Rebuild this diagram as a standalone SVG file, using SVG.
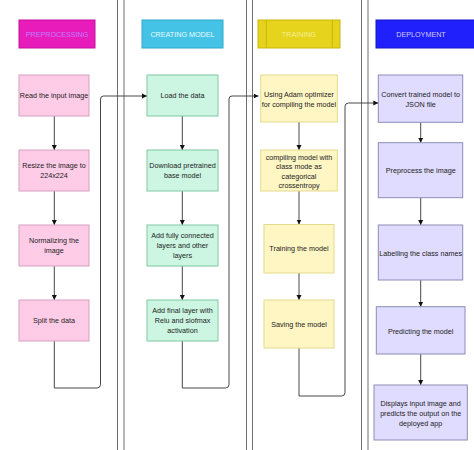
<svg xmlns="http://www.w3.org/2000/svg" width="474" height="450" viewBox="0 0 474 450">
<style>
text{font-family:"Liberation Sans",Arial,sans-serif;font-size:7.2px;fill:#222;text-anchor:middle}
.lane{stroke:#6e6e6e;stroke-width:1;fill:none}
.hd text{font-size:7.2px}
.pk{fill:#ffcce8;stroke:#d4a0c0;stroke-width:1}
.gr{fill:#ccf6e2;stroke:#80c8a2;stroke-width:1}
.yl{fill:#fff6c4;stroke:#e4da8c;stroke-width:1}
.lv{fill:#e0dcff;stroke:#8c8cb8;stroke-width:1}
.c{fill:none;stroke:#333;stroke-width:0.9}
</style>
<defs>
<marker id="ah" markerWidth="6" markerHeight="6" refX="5" refY="3" orient="auto" markerUnits="userSpaceOnUse">
<path d="M0,0.5 L5,3 L0,5.5 Z" fill="#111"/>
</marker>
</defs>
<rect width="474" height="450" fill="#fff"/>
<g id="lanes">
<line class="lane" x1="117.5" y1="0" x2="117.5" y2="450"/>
<line class="lane" x1="124" y1="0" x2="124" y2="450"/>
<line class="lane" x1="246.5" y1="0" x2="246.5" y2="450"/>
<line class="lane" x1="252.5" y1="0" x2="252.5" y2="450"/>
<line class="lane" x1="361.5" y1="0" x2="361.5" y2="450"/>
<line class="lane" x1="368" y1="0" x2="368" y2="450"/>
</g>
<g id="h1" class="hd"><rect x="19" y="20" width="76" height="28" fill="#e81cbb" stroke="#c4109c"/><text x="57" y="36.5" style="fill:#c27cff">PREPROCESSING</text></g>
<g id="h2" class="hd"><rect x="142" y="20" width="81" height="28" fill="#44c3e6" stroke="#30a8cc"/><text x="182.5" y="36.5" style="fill:#e6fbff">CREATING MODEL</text></g>
<g id="h3" class="hd"><rect x="258" y="20" width="82" height="28" fill="#e6d31c" stroke="#c9b70a"/><line x1="266.3" y1="20" x2="266.3" y2="48" stroke="#c9b70a"/><line x1="332.3" y1="20" x2="332.3" y2="48" stroke="#c9b70a"/><text x="299" y="36.5" style="fill:#f6ef94">TRAINING</text></g>
<g id="h4" class="hd"><rect x="376" y="20" width="100" height="28" fill="#1f20fb" stroke="#1414c8"/><text x="421" y="36.5" style="fill:#d4c8ff">DEPLOYMENT</text></g>

<g id="connectors">
<line class="c" x1="54.3" y1="116" x2="54.3" y2="150" marker-end="url(#ah)"/>
<line class="c" x1="54.3" y1="191" x2="54.3" y2="225" marker-end="url(#ah)"/>
<line class="c" x1="54.3" y1="266" x2="54.3" y2="300" marker-end="url(#ah)"/>
<path class="c" d="M54.3,341 V388 H97 Q100.5,388 100.5,384.5 V99 Q100.5,96 103.5,96 H147" marker-end="url(#ah)"/>
<line class="c" x1="182.3" y1="116" x2="182.3" y2="150" marker-end="url(#ah)"/>
<line class="c" x1="182.3" y1="191" x2="182.3" y2="225" marker-end="url(#ah)"/>
<line class="c" x1="182.3" y1="266" x2="182.3" y2="300" marker-end="url(#ah)"/>
<path class="c" d="M182.3,341 V388 H225.5 Q229,388 229,384.5 V99 Q229,96 232,96 H258.5" marker-end="url(#ah)"/>
<line class="c" x1="299" y1="122" x2="299" y2="150" marker-end="url(#ah)"/>
<line class="c" x1="299" y1="191" x2="299" y2="224.5" marker-end="url(#ah)"/>
<line class="c" x1="299" y1="273" x2="299" y2="300" marker-end="url(#ah)"/>
<path class="c" d="M299,348 V396 H341.5 Q345,396 345,392.5 V106.5 Q345,103 348.5,103 H378.3" marker-end="url(#ah)"/>
<line class="c" x1="420.7" y1="122.3" x2="420.7" y2="142.7" marker-end="url(#ah)"/>
<line class="c" x1="420.7" y1="197.7" x2="420.7" y2="225" marker-end="url(#ah)"/>
<line class="c" x1="420.7" y1="280" x2="420.7" y2="306.7" marker-end="url(#ah)"/>
<line class="c" x1="420.7" y1="354" x2="420.7" y2="385" marker-end="url(#ah)"/>
</g>

<g id="n1"><rect class="pk" x="19" y="75" width="70" height="41"/><text x="54" y="98">Read the input image</text></g>
<g id="n2"><rect class="pk" x="19" y="150" width="70" height="41"/><text x="54" y="168">Resize the image to</text><text x="54" y="178">224x224</text></g>
<g id="n3"><rect class="pk" x="19" y="225" width="70" height="41"/><text x="54" y="243">Normalizing the</text><text x="54" y="253">image</text></g>
<g id="n4"><rect class="pk" x="19" y="300" width="70" height="41"/><text x="54" y="323">Split the data</text></g>

<g id="n5"><rect class="gr" x="147" y="75" width="71" height="41"/><text x="182.5" y="98">Load the data</text></g>
<g id="n6"><rect class="gr" x="147" y="150" width="71" height="41"/><text x="182.5" y="168">Download pretrained</text><text x="182.5" y="178">base model</text></g>
<g id="n7"><rect class="gr" x="147" y="225" width="71" height="41"/><text x="182.5" y="238">Add fully connected</text><text x="182.5" y="248">layers and other</text><text x="182.5" y="258">layers</text></g>
<g id="n8"><rect class="gr" x="147" y="300" width="71" height="41"/><text x="182.5" y="313">Add final layer with</text><text x="182.5" y="323">Relu and siofmax</text><text x="182.5" y="333">activation</text></g>

<g id="n9"><rect class="yl" x="260.7" y="75" width="76.6" height="47"/><text x="299" y="97">Using Adam optimizer</text><text x="299" y="107">for compiling the model</text></g>
<g id="n10"><rect class="yl" x="260.7" y="150" width="76.6" height="41"/><text x="299" y="159.5">compiling model with</text><text x="299" y="169">class mode as</text><text x="299" y="178.5">categorical</text><text x="299" y="188">crossentropy</text></g>
<g id="n11"><rect class="yl" x="264" y="224.5" width="70" height="48.5"/><text x="299" y="251">Training the model</text></g>
<g id="n12"><rect class="yl" x="264" y="300" width="70" height="48"/><text x="299" y="327">Saving the model</text></g>

<g id="n13"><rect class="lv" x="378.3" y="75" width="84.4" height="47.3"/><text x="420.7" y="97">Convert trained model to</text><text x="420.7" y="107">JSON file</text></g>
<g id="n14"><rect class="lv" x="378.3" y="142.7" width="84.4" height="55"/><text x="420.7" y="173">Preprocess the image</text></g>
<g id="n15"><rect class="lv" x="378.3" y="225" width="84.4" height="55"/><text x="420.7" y="255.5">Labelling the class names</text></g>
<g id="n16"><rect class="lv" x="376.3" y="306.7" width="88.7" height="47.3"/><text x="420.7" y="333.5">Predicting the model</text></g>
<g id="n17"><rect class="lv" x="374" y="385" width="93.3" height="55"/><text x="420.7" y="405.5">Displays input image and</text><text x="420.7" y="415.5">predicts the output on the</text><text x="420.7" y="425.5">deployed app</text></g>
</svg>
